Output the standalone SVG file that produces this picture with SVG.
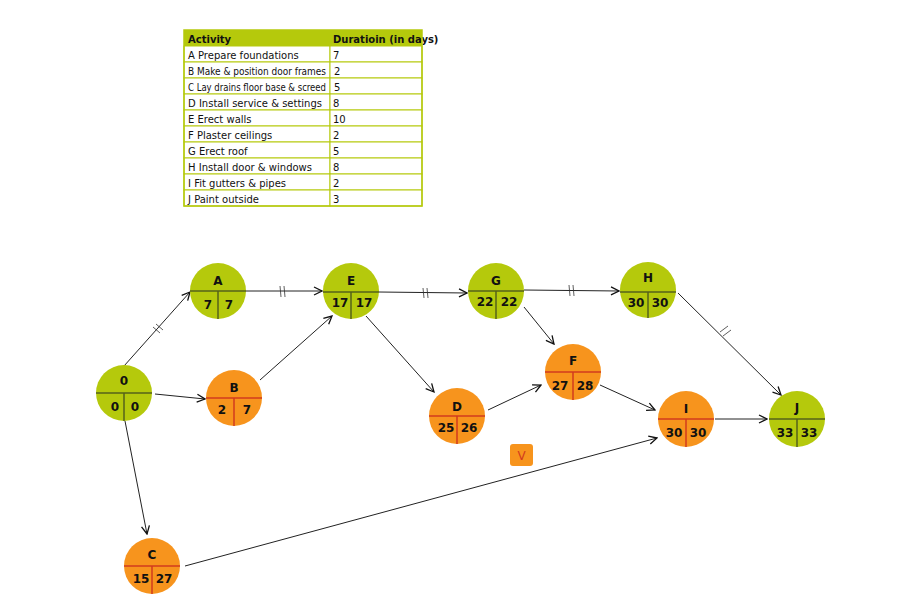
<svg xmlns="http://www.w3.org/2000/svg" width="906" height="609" viewBox="0 0 906 609">
<style>
text{font-family:"DejaVu Sans",sans-serif}
.t{font-size:10px;fill:#111}
.th{font-size:10px;font-weight:bold;fill:#111}
.g{fill:#b5c90c}
.o{fill:#f7941d}
.dg{stroke:#56621a;stroke-width:1.5}
.dr{stroke:#d23b1e;stroke-width:1.5}
.n{font-size:12px;font-weight:bold;text-anchor:middle;fill:#111}
.e{stroke:#222;stroke-width:1;fill:none;marker-end:url(#a)}
.tk{stroke:#333;stroke-width:0.8}
.cell{fill:#fff;stroke:#b5c90c;stroke-width:1}
</style>
<defs><marker id="a" markerWidth="10" markerHeight="10" refX="9" refY="5" orient="auto" markerUnits="userSpaceOnUse"><path d="M1,1 L9,5 L1,9" fill="none" stroke="#111" stroke-width="1.3"/></marker></defs>
<rect width="906" height="609" fill="#fff"/>
<g id="table">
<rect x="184" y="30" width="238" height="16" fill="#b5c90c"/>
<text class="th" x="188" y="43">Activity</text><text class="th" x="333" y="43">Duratioin (in days)</text>
<g>
<rect class="cell" x="184" y="46" width="146" height="16"/><rect class="cell" x="330" y="46" width="92" height="16"/>
<rect class="cell" x="184" y="62" width="146" height="16"/><rect class="cell" x="330" y="62" width="92" height="16"/>
<rect class="cell" x="184" y="78" width="146" height="16"/><rect class="cell" x="330" y="78" width="92" height="16"/>
<rect class="cell" x="184" y="94" width="146" height="16"/><rect class="cell" x="330" y="94" width="92" height="16"/>
<rect class="cell" x="184" y="110" width="146" height="16"/><rect class="cell" x="330" y="110" width="92" height="16"/>
<rect class="cell" x="184" y="126" width="146" height="16"/><rect class="cell" x="330" y="126" width="92" height="16"/>
<rect class="cell" x="184" y="142" width="146" height="16"/><rect class="cell" x="330" y="142" width="92" height="16"/>
<rect class="cell" x="184" y="158" width="146" height="16"/><rect class="cell" x="330" y="158" width="92" height="16"/>
<rect class="cell" x="184" y="174" width="146" height="16"/><rect class="cell" x="330" y="174" width="92" height="16"/>
<rect class="cell" x="184" y="190" width="146" height="16"/><rect class="cell" x="330" y="190" width="92" height="16"/>
</g>
<rect x="184" y="30" width="238" height="176" fill="none" stroke="#b5c90c" stroke-width="1.5"/>
<text class="t" x="188" y="59">A Prepare foundations</text><text class="t" x="333" y="59">7</text>
<text class="t" x="188" y="75" textLength="138" lengthAdjust="spacingAndGlyphs">B Make &amp; position door frames</text><text class="t" x="334" y="75">2</text>
<text class="t" x="188" y="91" textLength="138" lengthAdjust="spacingAndGlyphs">C Lay drains floor base &amp; screed</text><text class="t" x="334" y="91">5</text>
<text class="t" x="188" y="107">D Install service &amp; settings</text><text class="t" x="333" y="107">8</text>
<text class="t" x="188" y="123">E Erect walls</text><text class="t" x="333" y="123">10</text>
<text class="t" x="188" y="139">F Plaster ceilings</text><text class="t" x="333" y="139">2</text>
<text class="t" x="188" y="155">G Erect roof</text><text class="t" x="333" y="155">5</text>
<text class="t" x="188" y="171">H Install door &amp; windows</text><text class="t" x="333" y="171">8</text>
<text class="t" x="188" y="187">I Fit gutters &amp; pipes</text><text class="t" x="333" y="187">2</text>
<text class="t" x="188" y="203">J Paint outside</text><text class="t" x="333" y="203">3</text>
</g>
<g id="connectors">
<path class="e" d="M124,366 L190,292"/>
<path class="e" d="M246,291 L322,291"/>
<path class="e" d="M379,292 L467,293"/>
<path class="e" d="M524,290 L619,291"/>
<path class="e" d="M678,293 L781,395"/>
<path class="e" d="M155,394 L205,399"/>
<path class="e" d="M260,380 L332,316"/>
<path class="e" d="M366,316 L434,392"/>
<path class="e" d="M524,307 L554,344"/>
<path class="e" d="M488,410 L541,385"/>
<path class="e" d="M600,385 L655,410"/>
<path class="e" d="M715,419 L767,419"/>
<path class="e" d="M125,421 L147,534"/>
<path class="e" d="M185,566 L657,438"/>
<path class="tk" d="M153,327 L160,333 M156,324 L163,330 M280,286 L281,297 M284,286 L285,297 M423,288 L424,298 M427,288 L428,298 M569,285 L570,296 M573,285 L574,296 M720,332 L728,326 M723,336 L731,330"/>
</g>
<g id="n0"><circle class="g" cx="124" cy="393" r="28"/><line class="dg" x1="96" y1="393" x2="152" y2="393"/><line class="dg" x1="124" y1="393" x2="124" y2="421"/><text class="n" x="124" y="385">0</text><text class="n" x="115" y="411">0</text><text class="n" x="135" y="411">0</text></g>
<g id="nA"><circle class="g" cx="218" cy="291" r="28"/><line class="dg" x1="190" y1="291" x2="246" y2="291"/><line class="dg" x1="218" y1="291" x2="218" y2="319"/><text class="n" x="218" y="285">A</text><text class="n" x="208" y="309">7</text><text class="n" x="229" y="309">7</text></g>
<g id="nE"><circle class="g" cx="351" cy="291" r="28"/><line class="dg" x1="323" y1="292" x2="379" y2="292"/><line class="dg" x1="351" y1="292" x2="351" y2="319"/><text class="n" x="351" y="285">E</text><text class="n" x="340" y="307">17</text><text class="n" x="364" y="307">17</text></g>
<g id="nG"><circle class="g" cx="496" cy="291" r="28"/><line class="dg" x1="468" y1="291" x2="524" y2="291"/><line class="dg" x1="496" y1="291" x2="496" y2="319"/><text class="n" x="496" y="285">G</text><text class="n" x="485" y="306">22</text><text class="n" x="509" y="306">22</text></g>
<g id="nH"><circle class="g" cx="648" cy="290" r="28"/><line class="dg" x1="620" y1="292" x2="676" y2="292"/><line class="dg" x1="648" y1="292" x2="648" y2="318"/><text class="n" x="648" y="282">H</text><text class="n" x="636" y="307">30</text><text class="n" x="660" y="307">30</text></g>
<g id="nJ"><circle class="g" cx="797" cy="419" r="28"/><line class="dg" x1="769" y1="419" x2="825" y2="419"/><line class="dg" x1="797" y1="419" x2="797" y2="447"/><text class="n" x="797" y="412">J</text><text class="n" x="785" y="437">33</text><text class="n" x="809" y="437">33</text></g>
<g id="nB"><circle class="o" cx="234" cy="398" r="28"/><line class="dr" x1="206" y1="398" x2="262" y2="398"/><line class="dr" x1="234" y1="398" x2="234" y2="426"/><text class="n" x="234" y="392">B</text><text class="n" x="222" y="414">2</text><text class="n" x="247" y="414">7</text></g>
<g id="nD"><circle class="o" cx="457" cy="416" r="28"/><line class="dr" x1="429" y1="416" x2="485" y2="416"/><line class="dr" x1="457" y1="416" x2="457" y2="444"/><text class="n" x="457" y="411">D</text><text class="n" x="446" y="432">25</text><text class="n" x="469" y="432">26</text></g>
<g id="nF"><circle class="o" cx="573" cy="372" r="28"/><line class="dr" x1="545" y1="372" x2="601" y2="372"/><line class="dr" x1="573" y1="372" x2="573" y2="400"/><text class="n" x="573" y="365">F</text><text class="n" x="560" y="390">27</text><text class="n" x="585" y="390">28</text></g>
<g id="nI"><circle class="o" cx="686" cy="419" r="28"/><line class="dr" x1="658" y1="419" x2="714" y2="419"/><line class="dr" x1="686" y1="419" x2="686" y2="447"/><text class="n" x="686" y="413">I</text><text class="n" x="674" y="437">30</text><text class="n" x="698" y="437">30</text></g>
<g id="nC"><circle class="o" cx="152" cy="566" r="28"/><line class="dr" x1="124" y1="566" x2="180" y2="566"/><line class="dr" x1="152" y1="566" x2="152" y2="594"/><text class="n" x="152" y="559">C</text><text class="n" x="141" y="583">15</text><text class="n" x="164" y="583">27</text></g>
<g id="v"><rect x="510" y="444" width="23" height="22" rx="3" fill="#f7941d"/><text x="521.5" y="460" font-size="12" text-anchor="middle" fill="#d23b1e">V</text></g>
</svg>
